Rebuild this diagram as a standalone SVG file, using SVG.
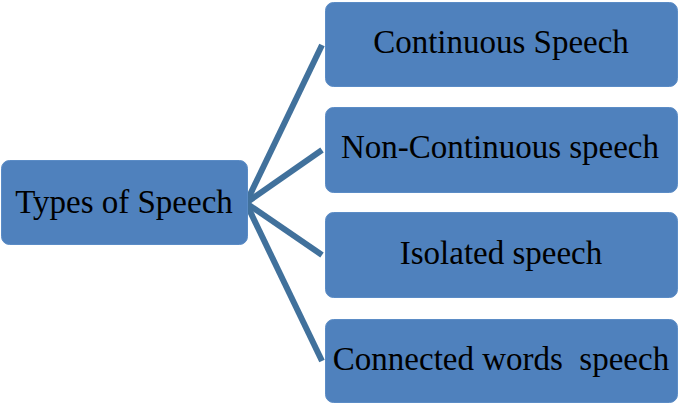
<svg xmlns="http://www.w3.org/2000/svg" width="685" height="405" viewBox="0 0 685 405">
<style>
.box{fill:#4F81BD;stroke:#5B8CC6;stroke-width:1}
.lbl{font-family:"Liberation Serif","Times New Roman",serif;font-size:33px;fill:#000;text-anchor:middle}
.conn{stroke:#41719C;stroke-width:6;fill:none;stroke-linecap:butt}
</style>
<rect width="685" height="405" fill="#fff"/>
<g id="connectors">
<line class="conn" x1="246" y1="203" x2="322" y2="45"/>
<line class="conn" x1="246" y1="203" x2="322" y2="150"/>
<line class="conn" x1="246" y1="203" x2="322" y2="255"/>
<line class="conn" x1="246" y1="203" x2="322" y2="361"/>
</g>
<g id="types">
<rect class="box" x="1.5" y="160.5" width="246" height="84" rx="8"/>
<text class="lbl" x="124" y="213">Types of Speech</text>
</g>
<g id="continuous">
<rect class="box" x="325.5" y="2.5" width="352" height="84" rx="8"/>
<text class="lbl" x="501" y="53">Continuous Speech</text>
</g>
<g id="noncontinuous">
<rect class="box" x="325.5" y="107.5" width="352" height="85" rx="8"/>
<text class="lbl" x="500" y="158">Non-Continuous speech</text>
</g>
<g id="isolated">
<rect class="box" x="325.5" y="212.5" width="352" height="85" rx="8"/>
<text class="lbl" x="501" y="264">Isolated speech</text>
</g>
<g id="connected">
<rect class="box" x="325.5" y="319.5" width="352" height="83" rx="8"/>
<text class="lbl" x="501" y="370" xml:space="preserve">Connected words  speech</text>
</g>
</svg>
